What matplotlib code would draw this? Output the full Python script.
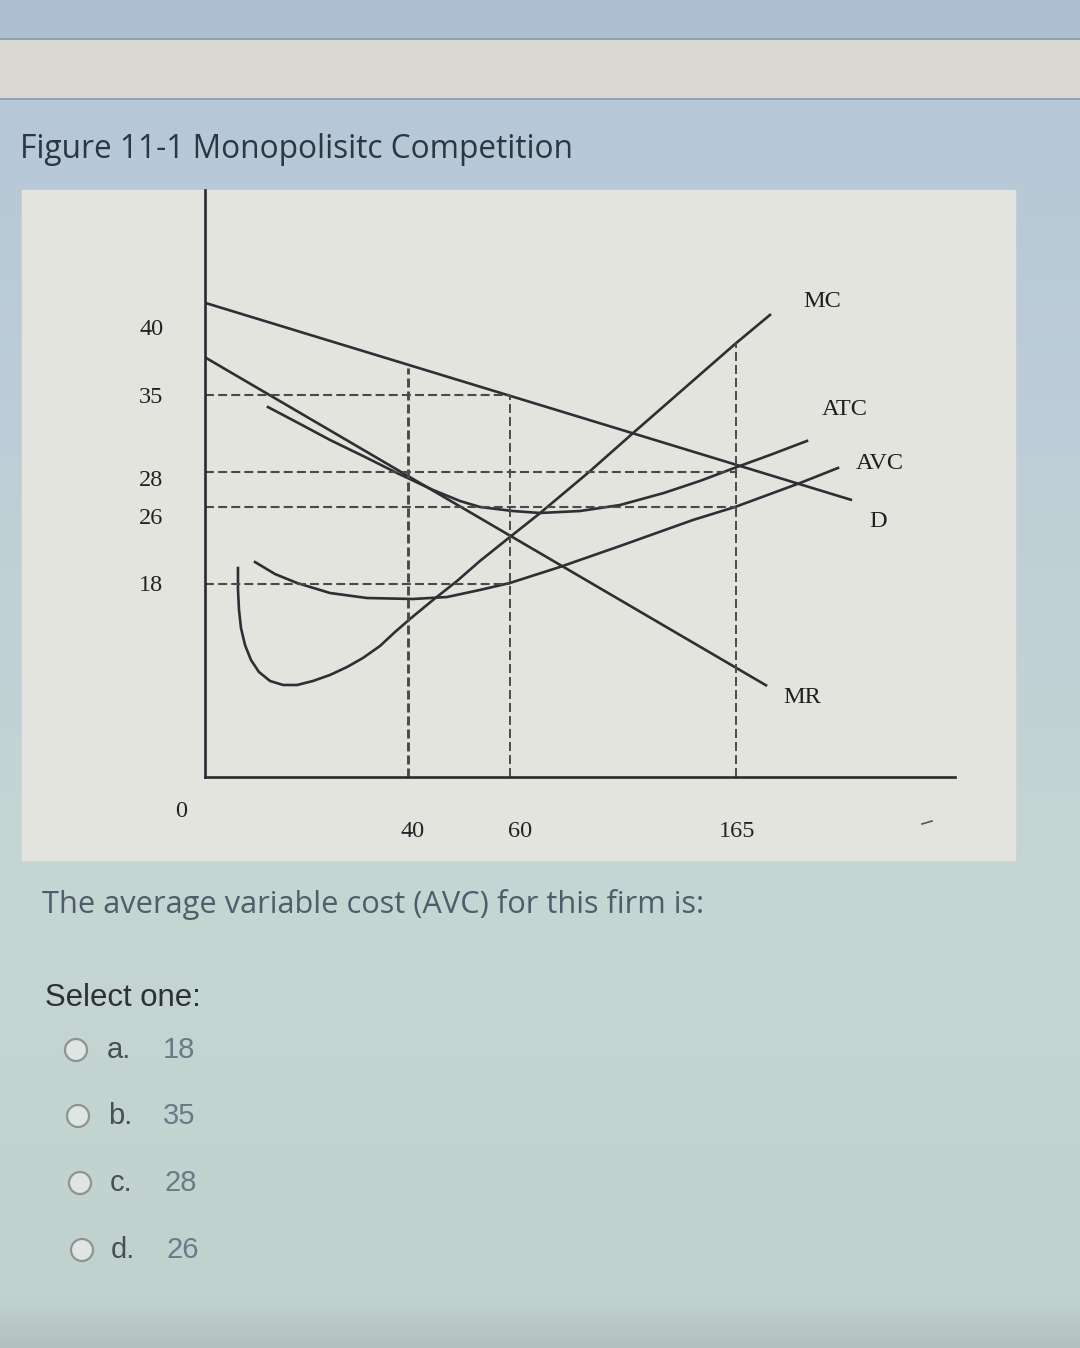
import numpy as np
import matplotlib
matplotlib.use("Agg")
import matplotlib.pyplot as plt
from matplotlib.patches import Rectangle, Circle

# ---------------- data (chart units) ----------------
d_q = [0.0, 127.3]
d_p = [43.5, 25.4]

mr_q = [0.0, 110.6]
mr_p = [38.5, 8.35]

mc_q = [6.49, 6.49, 6.69, 7.08, 7.87, 9.05, 10.62, 12.79, 15.35, 18.10, 21.25,
        24.59, 27.94, 31.08, 34.43, 37.38, 40.33, 44.86, 49.58, 54.10, 60.00,
        65.71, 75.55, 84.01, 104.27, 111.15]
mc_p = [19.17, 17.16, 15.32, 13.67, 12.11, 10.73, 9.63, 8.81, 8.44, 8.44, 8.81,
        9.36, 10.09, 10.92, 12.02, 13.30, 14.50, 16.24, 17.98, 19.82, 22.02,
        24.13, 27.98, 31.47, 39.72, 42.39]

atc_q = [12.39, 18.69, 24.59, 31.48, 37.77, 44.86, 50.17, 54.10, 60.59, 65.91,
         73.78, 81.64, 90.30, 97.38, 104.66, 111.15, 118.43]
atc_p = [33.94, 32.39, 30.92, 29.36, 27.89, 26.33, 25.32, 24.77, 24.40, 24.22,
         24.40, 24.95, 26.06, 27.16, 28.44, 29.54, 30.83]

avc_q = [9.84, 13.77, 18.10, 24.59, 31.87, 40.92, 47.61, 54.10, 60.00, 69.84,
         81.64, 96.01, 104.27, 117.06, 124.53]
avc_p = [19.72, 18.62, 17.80, 16.88, 16.42, 16.33, 16.51, 17.16, 17.80, 19.27,
         21.19, 23.58, 24.77, 26.97, 28.35]

curve_labels = ["MC", "ATC", "AVC", "D", "MR"]
curve_label_q = [121.4, 125.9, 132.8, 132.4, 117.45]
curve_label_p = [43.6, 33.7, 28.8, 23.4, 7.25]

hguide_p = [35.0, 28.0, 24.8, 17.7]
hguide_q_end = [60.0, 104.5, 104.5, 60.0]
vguide_q = [40.0, 60.0, 104.5]
vguide_p_top = [37.5, 35.0, 39.8]

y_tick_labels = ["40", "35", "28", "26", "18"]
y_tick_pos = [41.3, 35.05, 27.4, 23.9, 17.8]
x_tick_labels = ["40", "60", "165"]
x_tick_pos = [40.9, 62.0, 104.7]

title_text = "Figure 11-1 Monopolisitc Competition"
question_text = "The average variable cost (AVC) for this firm is:"
select_text = "Select one:"
choice_letters = ["a.", "b.", "c.", "d."]
choice_values = ["18", "35", "28", "26"]

# ---------------- figure ----------------
W, H = 1080, 1348
fig = plt.figure(figsize=(W / 100, H / 100), dpi=100)

# background (pixel coordinates)
bg = fig.add_axes([0, 0, 1, 1])
bg.set_xlim(0, W)
bg.set_ylim(H, 0)
bg.axis("off")

stops_y = [100, 400, 900, 1300, 1348]
stops_c = np.array([[182, 200, 214], [188, 205, 216], [198, 214, 211],
                    [193, 209, 206], [178, 192, 192]]) / 255.0
yy = np.arange(H)
grad = np.stack([np.interp(yy, stops_y, stops_c[:, k]) for k in range(3)], axis=-1)
img = np.repeat(grad[:, None, :], 4, axis=1)
bg.imshow(img, extent=(0, W, H, 0), aspect="auto", zorder=0)

bg.add_patch(Rectangle((0, 0), W, 39, color="#abbfd0", zorder=1))
bg.add_patch(Rectangle((0, 39), W, 60, color="#d8d7d1", zorder=1))
bg.plot([0, W], [39, 39], color="#8797a6", lw=1.2, zorder=2)
bg.plot([0, W], [99, 99], color="#8797a6", lw=1.2, zorder=2)
bg.add_patch(Rectangle((22, 190), 993, 670, color="#e4e4de", zorder=1))
bg.plot([922, 932], [824, 821], color="#555555", lw=1.2, zorder=2)

renderer = fig.canvas.get_renderer()


def fit_text(x0, x1, y, s, family, color, guess):
    t = fig.text(x0 / W, 1 - y / H, s, fontsize=guess, family=family,
                 color=color, ha="left", va="center")
    bb = t.get_window_extent(renderer)
    t.set_fontsize(guess * (x1 - x0) / bb.width)
    return t


fit_text(20, 572, 150, title_text, "Open Sans", "#2b3742", 22)
fit_text(42, 703, 905, question_text, "Open Sans", "#4f5d6a", 22)
fit_text(45, 200, 998, select_text, "Liberation Sans", "#2e3032", 22)

circ_x = [76, 78, 80, 82]
circ_y = [1050, 1116, 1183, 1250]
letter_x = [107, 108, 110, 111]
value_x = [163, 163, 165, 166]
for i in range(4):
    bg.add_patch(Circle((circ_x[i], circ_y[i]), 11, facecolor="#dfe5e3",
                        edgecolor="#8d9494", lw=1.6, zorder=3))
    fig.text(letter_x[i] / W, 1 - circ_y[i] / H, choice_letters[i], fontsize=21,
             family="Liberation Sans", color="#4a4f54", ha="left", va="center")
    fig.text(value_x[i] / W, 1 - circ_y[i] / H, choice_values[i], fontsize=21,
             family="Liberation Sans", color="#6c7a88", ha="left", va="center")

# ---------------- chart ----------------
ax = fig.add_axes([205 / W, 1 - 777 / H, 750 / W, 587 / H])
ax.set_facecolor("none")
ax.set_xlim(0, 147.55)
ax.set_ylim(0, 53.85)
for s in ["top", "right"]:
    ax.spines[s].set_visible(False)
for s in ["left", "bottom"]:
    ax.spines[s].set_linewidth(1.9)
    ax.spines[s].set_color("#2a2a2e")

line_c = "#2e2e34"
lw = 1.9
ax.plot(d_q, d_p, color=line_c, lw=lw, solid_capstyle="butt")
ax.plot(mr_q, mr_p, color=line_c, lw=lw, solid_capstyle="butt")
ax.plot(mc_q, mc_p, color=line_c, lw=lw, solid_joinstyle="round")
ax.plot(atc_q, atc_p, color=line_c, lw=lw, solid_joinstyle="round")
ax.plot(avc_q, avc_p, color=line_c, lw=lw, solid_joinstyle="round")

dash_c = "#4a4a4a"
for p, qe in zip(hguide_p, hguide_q_end):
    ax.plot([0, qe], [p, p], color=dash_c, lw=1.5, linestyle=(0, (4.3, 2.0)))
for i, (q, pt) in enumerate(zip(vguide_q, vguide_p_top)):
    w = 2.1 if i == 0 else 1.4
    ax.plot([q, q], [0, pt], color=dash_c, lw=w,
            linestyle=(0, (5.0 * 1.3 / w, 2.2 * 1.3 / w)))

serif = "Liberation Serif"
for lab, q, p in zip(curve_labels, curve_label_q, curve_label_p):
    ax.text(q, p, lab, family=serif, fontsize=17.5, color="#1e1e22",
            ha="center", va="center", clip_on=False)

ax.set_yticks(y_tick_pos, y_tick_labels)
ax.set_xticks(x_tick_pos, x_tick_labels)
ax.tick_params(axis="y", length=0, pad=30, labelsize=17.5, labelcolor="#222226")
ax.tick_params(axis="x", length=0, pad=32, labelsize=17.5, labelcolor="#222226")
for t in ax.get_xticklabels() + ax.get_yticklabels():
    t.set_family(serif)
ax.text(-4.7, -3.2, "0", family=serif, fontsize=17.5, color="#222226",
        ha="center", va="center", clip_on=False)

fig.savefig("out.png", dpi=100)
